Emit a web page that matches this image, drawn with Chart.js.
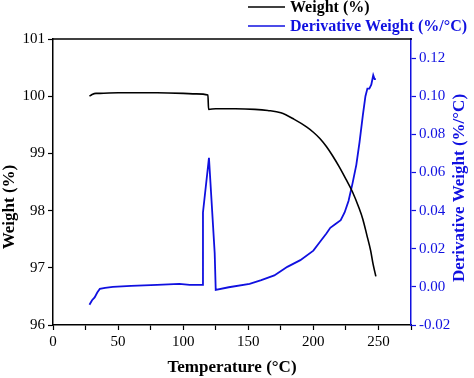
<!DOCTYPE html>
<html>
<head>
<meta charset="utf-8">
<script src="https://cdn.jsdelivr.net/npm/chart.js@4.4.1/dist/chart.umd.min.js"></script>
<style>
    html, body { margin: 0; padding: 0; background: #fff; }
    canvas { display: block; }
</style>
</head>
<body>
<canvas id="tgaChart" width="474" height="378"></canvas>
<script>
// TGA curve: weight (%) vs temperature
const weightTemp = [28, 30, 33, 36, 50, 80, 100, 110, 119, 119.5, 125, 140, 155, 165, 175, 185, 195, 200, 205, 210, 215, 220, 225, 230, 235, 238, 241, 244, 246, 248];
const weightValues = [100.0, 100.03, 100.05, 100.05, 100.06, 100.06, 100.05, 100.04, 100.02, 99.77, 99.78, 99.78, 99.77, 99.75, 99.71, 99.6, 99.46, 99.37, 99.26, 99.12, 98.95, 98.76, 98.55, 98.33, 98.05, 97.85, 97.58, 97.3, 97.05, 96.85];

// DTG curve: derivative weight (%/°C) vs temperature
const derivTemp = [28, 30, 32, 34, 36, 40, 46, 60, 80, 97, 105, 114.7, 115.2, 119.8, 124.2, 125, 135, 151, 160, 170, 174, 180, 190, 200, 205, 210, 213, 217, 221, 224, 227, 230, 233, 235.5, 238, 240, 241.5, 243, 244.5, 246, 247, 248];
const derivValues = [-0.0094, -0.007, -0.0055, -0.003, -0.001, -0.0005, 0.0, 0.0005, 0.001, 0.0016, 0.001, 0.001, 0.039, 0.0677, 0.0178, -0.0016, -0.0002, 0.0016, 0.0035, 0.006, 0.0078, 0.0105, 0.014, 0.019, 0.0235, 0.028, 0.031, 0.033, 0.035, 0.039, 0.045, 0.054, 0.064, 0.076, 0.09, 0.1, 0.104, 0.104, 0.106, 0.111, 0.109, 0.109];

// Axis ranges and tick labels
const tempTickLabels = ['0', '50', '100', '150', '200', '250'];
const weightTickLabels = ['96', '97', '98', '99', '100', '101'];
const derivTickLabels = ['-0.02', '0.00', '0.02', '0.04', '0.06', '0.08', '0.10', '0.12'];

const serif = '"Liberation Serif", "Times New Roman", serif';
const blue = '#1010e0';

const toPoints = (xs, ys) => xs.map((x, i) => ({ x: x, y: ys[i] }));

// rotated title, reading bottom to top
function sideTitle(c, text, x, y, color) {
    c.save();
    c.translate(x, y);
    c.rotate(-Math.PI / 2);
    c.textAlign = 'center';
    c.textBaseline = 'middle';
    c.fillStyle = color;
    c.font = 'bold 17px ' + serif;
    c.fillText(text, 0, 0);
    c.restore();
}

// Legend, top frame line and y axis titles
const decorations = {
    id: 'decorations',
    afterDraw(chart) {
        const c = chart.ctx;
        const area = chart.chartArea;
        c.save();

        // top frame
        c.strokeStyle = '#000';
        c.lineWidth = 1.5;
        c.beginPath();
        c.moveTo(area.left, area.top);
        c.lineTo(area.right + 1, area.top);
        c.stroke();

        // legend
        c.font = 'bold 16px ' + serif;
        c.textBaseline = 'middle';
        chart.data.datasets.forEach((ds, i) => {
            const y = 7 + i * 19;
            c.strokeStyle = ds.borderColor;
            c.lineWidth = 1.5;
            c.beginPath();
            c.moveTo(248, y);
            c.lineTo(285, y);
            c.stroke();
            c.fillStyle = ds.borderColor;
            c.fillText(ds.label, 290, y + 1);
        });
        c.restore();

        sideTitle(c, 'Weight (%)', 10, 207, '#000');
        sideTitle(c, 'Derivative Weight (%/°C)', 460, 188, blue);
    }
};

const ctx = document.getElementById('tgaChart').getContext('2d');
const tgaChart = new Chart(ctx, {
    type: 'line',
    data: {
        datasets: [{
            label: 'Weight (%)',
            data: toPoints(weightTemp, weightValues),
            borderColor: '#000000',
            borderWidth: 1.6,
            pointRadius: 0,
            cubicInterpolationMode: 'monotone',
            yAxisID: 'y'
        }, {
            label: 'Derivative Weight (%/°C)',
            data: toPoints(derivTemp, derivValues),
            borderColor: blue,
            borderWidth: 1.8,
            pointRadius: 0,
            tension: 0,
            yAxisID: 'y2'
        }]
    },
    options: {
        responsive: false,
        animation: false,
        devicePixelRatio: 1,
        layout: { padding: { top: 39 } },
        plugins: {
            legend: { display: false },
            tooltip: { enabled: false }
        },
        scales: {
            x: {
                type: 'linear',
                min: 0,
                max: 275,
                afterFit: s => { s.height = 53; },
                ticks: {
                    stepSize: 25,
                    padding: 3,
                    color: '#000',
                    font: { family: serif, size: 15 },
                    callback: (v, i) => i % 2 === 0 ? tempTickLabels[i / 2] : ''
                },
                grid: { drawOnChartArea: false, tickLength: 5, tickColor: '#000', tickWidth: 1.2 },
                border: { color: '#000', width: 1.5 },
                title: {
                    display: true,
                    text: 'Temperature (°C)',
                    color: '#000',
                    font: { family: serif, size: 17, weight: 'bold' },
                    padding: 0
                }
            },
            y: {
                position: 'left',
                min: 96,
                max: 101,
                afterFit: s => { s.width = 53; },
                ticks: {
                    stepSize: 1,
                    padding: 3,
                    color: '#000',
                    font: { family: serif, size: 15 },
                    callback: (v, i) => weightTickLabels[i]
                },
                grid: { drawOnChartArea: false, tickLength: 5, tickColor: '#000', tickWidth: 1.2 },
                border: { color: '#000', width: 1.5 }
            },
            y2: {
                position: 'right',
                min: -0.02,
                max: 0.13,
                afterFit: s => { s.width = 63; },
                ticks: {
                    stepSize: 0.01,
                    padding: 3,
                    color: blue,
                    font: { family: serif, size: 15 },
                    callback: (v, i) => i % 2 === 0 ? derivTickLabels[i / 2] : ''
                },
                grid: { drawOnChartArea: false, tickLength: 5, tickColor: blue, tickWidth: 1.2 },
                border: { color: blue, width: 1.5 }
            }
        }
    },
    plugins: [decorations]
});
</script>
</body>
</html>
